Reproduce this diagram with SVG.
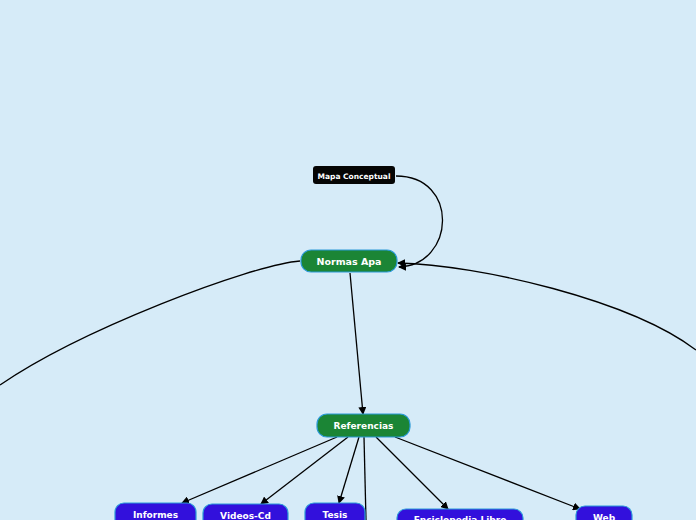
<svg xmlns="http://www.w3.org/2000/svg" width="696" height="520" viewBox="0 0 696 520">
<defs>
<style>
.t{font-family:"DejaVu Sans",sans-serif;font-weight:bold;fill:#fff;text-anchor:middle}
.g{fill:#1b8535;stroke:#2a9ad8;stroke-width:1.2}
.b{fill:#3210dc;stroke:#2a9ad8;stroke-width:1.2}
.c{fill:none;stroke:#000;stroke-width:1.3}
</style>
<marker id="a" markerWidth="8" markerHeight="8" refX="7" refY="4" orient="auto" markerUnits="userSpaceOnUse"><path d="M0,0 L8,4 L0,8 Z" fill="#000"/></marker>
</defs>
<rect width="696" height="520" fill="#d6ebf8"/>
<g id="connectors">
<path class="c" d="M396,176 C460,176 455,265 399,267" marker-end="url(#a)"/>
<path class="c" d="M300,261 C250,265 80,330 0,385"/>
<path class="c" d="M696,350 C630,300 480,265 398,263" marker-end="url(#a)"/>
<path class="c" d="M350,273 L363,414" marker-end="url(#a)"/>
<path class="c" d="M337,437 L182,503" marker-end="url(#a)"/>
<path class="c" d="M348,437 L261,504" marker-end="url(#a)"/>
<path class="c" d="M359,437 L339,503" marker-end="url(#a)"/>
<path class="c" d="M364,437 L366,520"/>
<path class="c" d="M376,437 L448,509" marker-end="url(#a)"/>
<path class="c" d="M395,437 L580,509" marker-end="url(#a)"/>
</g>
<g id="mapa"><rect x="313" y="166" width="82" height="18" rx="3" fill="#050505"/><text class="t" x="354" y="178.5" font-size="7.5">Mapa Conceptual</text></g>
<g id="normas"><rect class="g" x="301" y="250" width="96" height="22" rx="10"/><text class="t" x="349" y="265" font-size="9.5">Normas Apa</text></g>
<g id="referencias"><rect class="g" x="317" y="414" width="93" height="23" rx="10"/><text class="t" x="363.5" y="429" font-size="9">Referencias</text></g>
<g id="informes"><rect class="b" x="115" y="503" width="81" height="30" rx="9"/><text class="t" x="155.5" y="518" font-size="9">Informes</text></g>
<g id="videos"><rect class="b" x="203" y="504" width="85" height="30" rx="9"/><text class="t" x="245.5" y="519" font-size="9">Videos-Cd</text></g>
<g id="tesis"><rect class="b" x="305" y="503" width="60" height="30" rx="9"/><text class="t" x="335" y="518" font-size="9">Tesis</text></g>
<g id="enciclopedia"><rect class="b" x="397" y="509" width="126" height="30" rx="9"/><text class="t" x="460" y="523" font-size="9">Enciclopedia Libro</text></g>
<g id="web"><rect class="b" x="576" y="506" width="56" height="30" rx="9"/><text class="t" x="604" y="521" font-size="9">Web</text></g>
</svg>
